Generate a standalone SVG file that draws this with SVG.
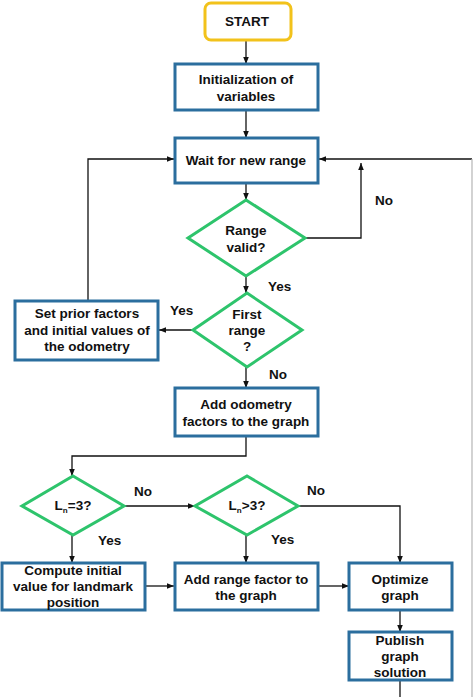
<svg xmlns="http://www.w3.org/2000/svg" width="474" height="697" viewBox="0 0 474 697">
<defs>
<marker id="ah" viewBox="0 0 10 10" refX="10" refY="5" markerWidth="7" markerHeight="7" orient="auto-start-reverse" markerUnits="userSpaceOnUse"><path d="M0,1 L10,5 L0,9 z" fill="#111"/></marker>
<style>
text{font-family:"Liberation Sans",Arial,sans-serif;font-weight:bold;font-size:13.5px;fill:#111;text-anchor:middle}
.box{fill:#fff;stroke:#2b6e9e;stroke-width:3}
.dia{fill:#fff;stroke:#2ec46c;stroke-width:3}
.st{fill:#fff;stroke:#f2c21b;stroke-width:3}
.c{fill:none;stroke:#111;stroke-width:1.3}
.lbl{text-anchor:start}
</style>
</defs>
<rect width="474" height="697" fill="#fff"/>
<g id="connectors">
<path class="c" d="M246,40 V64" marker-end="url(#ah)"/>
<path class="c" d="M246,110 V138" marker-end="url(#ah)"/>
<path class="c" d="M246,183 V200" marker-end="url(#ah)"/>
<path class="c" d="M305,238 H361 V163" marker-end="url(#ah)"/>
<path class="c" d="M472,159 H319" marker-end="url(#ah)"/>
<path d="M472,159 V697" stroke="#bbb" stroke-width="1.3" fill="none"/>
<path class="c" d="M246,276 V293" marker-end="url(#ah)"/>
<path class="c" d="M193,330 H159" marker-end="url(#ah)"/>
<path class="c" d="M88,301 V159 H174" marker-end="url(#ah)"/>
<path class="c" d="M246,367 V388" marker-end="url(#ah)"/>
<path class="c" d="M246,436 V456 H72 V476" marker-end="url(#ah)"/>
<path class="c" d="M124,506 H195" marker-end="url(#ah)"/>
<path class="c" d="M298,506 H400 V563" marker-end="url(#ah)"/>
<path class="c" d="M72,535 V563" marker-end="url(#ah)"/>
<path class="c" d="M246,535 V563" marker-end="url(#ah)"/>
<path class="c" d="M145,586 H174" marker-end="url(#ah)"/>
<path class="c" d="M318,586 H349" marker-end="url(#ah)"/>
<path class="c" d="M400,610 V632" marker-end="url(#ah)"/>
<path class="c" d="M400,680 V697"/>
<text class="lbl" x="375" y="205">No</text>
<text class="lbl" x="268" y="291">Yes</text>
<text class="lbl" x="170" y="315">Yes</text>
<text class="lbl" x="269" y="379">No</text>
<text class="lbl" x="134" y="496">No</text>
<text class="lbl" x="307" y="495">No</text>
<text class="lbl" x="98" y="545">Yes</text>
<text class="lbl" x="271" y="544">Yes</text>
</g>
<g id="start"><rect class="st" x="205" y="3" width="86" height="37" rx="6"/><text x="247" y="26">START</text></g>
<g id="init"><rect class="box" x="175" y="64" width="143" height="46"/><text x="246" y="84">Initialization of</text><text x="246" y="101">variables</text></g>
<g id="wait"><rect class="box" x="175" y="138" width="143" height="45"/><text x="246" y="165">Wait for new range</text></g>
<g id="valid"><polygon class="dia" points="246,200 305,238 246,276 188,238"/><text x="246" y="235">Range</text><text x="246" y="252">valid?</text></g>
<g id="first"><polygon class="dia" points="247,293 302,330 247,367 193,330"/><text x="247" y="319">First</text><text x="247" y="335">range</text><text x="247" y="351">?</text></g>
<g id="prior"><rect class="box" x="15" y="301" width="143" height="59"/><text x="87" y="318">Set prior factors</text><text x="87" y="335">and initial values of</text><text x="87" y="351">the odometry</text></g>
<g id="odo"><rect class="box" x="175" y="388" width="143" height="48"/><text x="246" y="409">Add odometry</text><text x="246" y="426">factors to the graph</text></g>
<g id="ln3"><polygon class="dia" points="73,476 124,506 73,535 22,506"/><text x="73" y="510">L<tspan font-size="8" dy="3">n</tspan><tspan dy="-3">=3?</tspan></text></g>
<g id="lngt3"><polygon class="dia" points="247,476 298,506 247,535 195,506"/><text x="247" y="510">L<tspan font-size="8" dy="3">n</tspan><tspan dy="-3">&gt;3?</tspan></text></g>
<g id="compute"><rect class="box" x="2" y="563" width="143" height="47"/><text x="73" y="575">Compute initial</text><text x="73" y="591">value for landmark</text><text x="73" y="607">position</text></g>
<g id="rangef"><rect class="box" x="175" y="563" width="143" height="47"/><text x="246" y="584">Add range factor to</text><text x="246" y="600">the graph</text></g>
<g id="opt"><rect class="box" x="349" y="563" width="103" height="47"/><text x="400" y="584">Optimize</text><text x="400" y="600">graph</text></g>
<g id="pub"><rect class="box" x="349" y="632" width="103" height="48"/><text x="400" y="645">Publish</text><text x="400" y="661">graph</text><text x="400" y="677">solution</text></g>
</svg>
